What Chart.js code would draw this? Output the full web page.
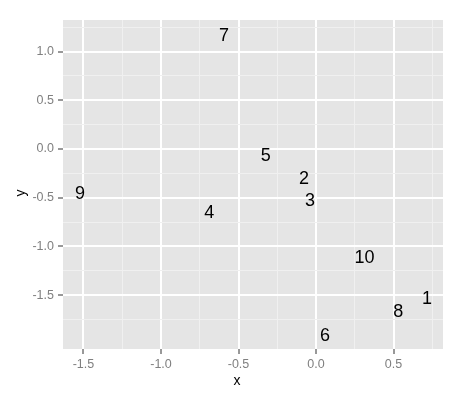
<!DOCTYPE html>
<html>
<head>
<meta charset="utf-8">
<script src="https://cdn.jsdelivr.net/npm/chart.js@4/dist/chart.umd.min.js"></script>
<style>
  body { margin: 0; background: #fff; }
  #wrap { width: 474px; height: 400px; }
</style>
</head>
<body>
<div id="wrap"><canvas id="myChart" width="474" height="400"></canvas></div>
<script>
var pointLabels = ['1', '2', '3', '4', '5', '6', '7', '8', '9', '10'];
var xValues = [0.716, -0.077, -0.039, -0.688, -0.325, 0.058, -0.594, 0.531, -1.523, 0.312];
var yValues = [-1.540, -0.311, -0.534, -0.660, -0.072, -1.917, 1.160, -1.677, -0.462, -1.122];

var xMajor = [-1.5, -1.0, -0.5, 0.0, 0.5];
var xMinor = [-1.25, -0.75, -0.25, 0.25, 0.75];
var yMajor = [-1.5, -1.0, -0.5, 0.0, 0.5, 1.0];
var yMinor = [-1.75, -1.25, -0.75, -0.25, 0.25, 0.75, 1.25];

var FONT = '"Liberation Sans", Arial, Helvetica, sans-serif';

var points = [];
for (var i = 0; i < xValues.length; i++) {
  points.push({x: xValues[i], y: yValues[i]});
}

function setTicks(major, minor) {
  return function(scale) {
    var all = major.concat(minor).sort(function(a, b) { return a - b; });
    scale.ticks = all.map(function(v) { return {value: v}; });
  };
}

function gridStyle(major) {
  return {
    color: function(c) { return major.indexOf(c.tick.value) >= 0 ? '#ffffff' : '#f0f0f0'; },
    lineWidth: function(c) { return major.indexOf(c.tick.value) >= 0 ? 2 : 1; },
    tickColor: function(c) { return major.indexOf(c.tick.value) >= 0 ? '#333333' : 'rgba(0,0,0,0)'; },
    tickWidth: 1,
    tickLength: 5
  };
}

// grey panel behind the grid
var panelBg = {
  id: 'panelBg',
  beforeDraw: function(chart) {
    var a = chart.chartArea;
    var ctx = chart.ctx;
    ctx.save();
    ctx.fillStyle = '#e5e5e5';
    ctx.fillRect(a.left, a.top, a.right - a.left, a.bottom - a.top);
    ctx.restore();
  }
};

// draws the number of each point at its position
var textLabels = {
  id: 'textLabels',
  afterDatasetsDraw: function(chart) {
    var ctx = chart.ctx;
    var meta = chart.getDatasetMeta(0);
    ctx.save();
    ctx.fillStyle = '#000000';
    ctx.font = '18px ' + FONT;
    ctx.textAlign = 'center';
    ctx.textBaseline = 'middle';
    meta.data.forEach(function(el, i) {
      ctx.fillText(pointLabels[i], el.x, el.y);
    });
    ctx.restore();
  }
};

var axisTitles = {
  id: 'axisTitles',
  afterDraw: function(chart) {
    var ctx = chart.ctx;
    ctx.save();
    ctx.fillStyle = '#000000';
    ctx.font = '14px ' + FONT;
    ctx.textAlign = 'center';
    ctx.textBaseline = 'middle';
    ctx.fillText('x', 237, 381);
    ctx.translate(21, 193);
    ctx.rotate(-Math.PI / 2);
    ctx.fillText('y', 0, 0);
    ctx.restore();
  }
};

var ctx = document.getElementById('myChart');
var myChart = new Chart(ctx, {
  type: 'scatter',
  data: {
    datasets: [{
      data: points,
      pointRadius: 0,
      pointHoverRadius: 0
    }]
  },
  options: {
    responsive: false,
    animation: false,
    layout: {padding: {left: 0, top: 20, right: 31, bottom: 0}},
    plugins: {legend: {display: false}, tooltip: {enabled: false}},
    scales: {
      x: {
        type: 'linear',
        min: -1.632,
        max: 0.819,
        afterBuildTicks: setTicks(xMajor, xMinor),
        afterFit: function(scale) { scale.height = 51; },
        grid: gridStyle(xMajor),
        border: {display: false},
        ticks: {
          autoSkip: false,
          maxRotation: 0,
          padding: 3,
          color: '#808080',
          font: {family: FONT, size: 12.5},
          callback: function(v) { return xMajor.indexOf(v) >= 0 ? v.toFixed(1) : ''; }
        }
      },
      y: {
        type: 'linear',
        min: -2.053,
        max: 1.324,
        afterBuildTicks: setTicks(yMajor, yMinor),
        afterFit: function(scale) { scale.width = 63; },
        grid: gridStyle(yMajor),
        border: {display: false},
        ticks: {
          autoSkip: false,
          padding: 4,
          color: '#808080',
          font: {family: FONT, size: 12.5},
          callback: function(v) { return yMajor.indexOf(v) >= 0 ? v.toFixed(1) : ''; }
        }
      }
    }
  },
  plugins: [panelBg, textLabels, axisTitles]
});
</script>
</body>
</html>
